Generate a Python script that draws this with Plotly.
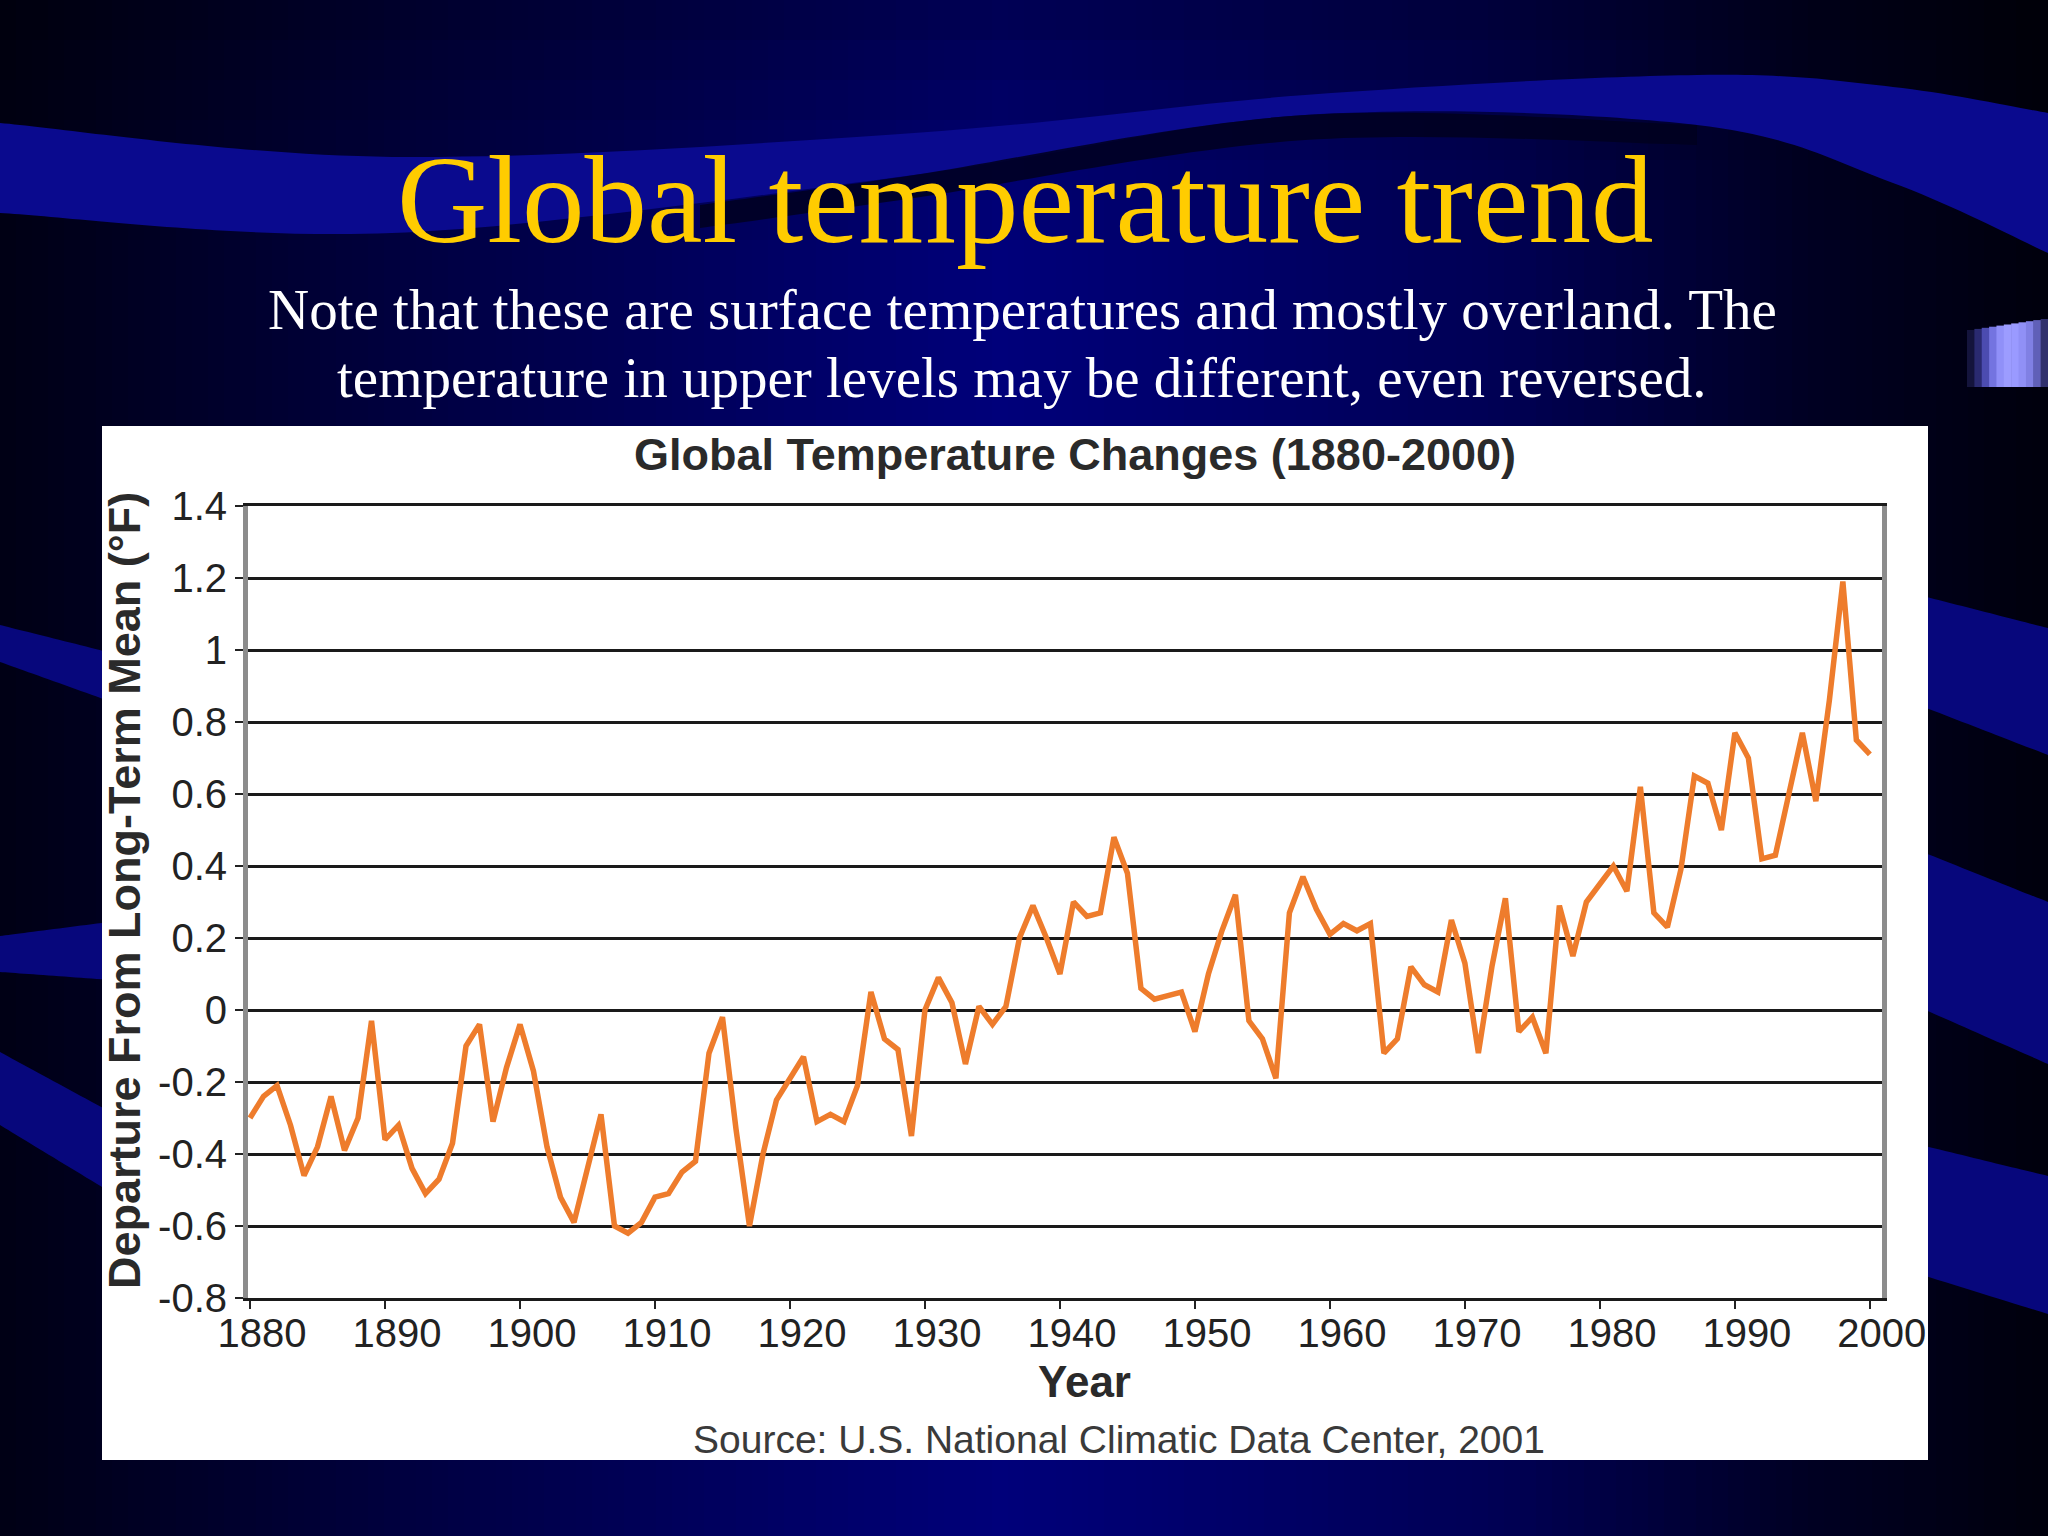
import plotly.graph_objects as go

W, H = 2048, 1536

# ---------------- data ----------------
years = list(range(1880, 2001))
anomaly_f = [
    -0.30, -0.24, -0.21, -0.32, -0.46, -0.38, -0.24, -0.39, -0.30, -0.03,   # 1880s
    -0.36, -0.32, -0.44, -0.51, -0.47, -0.37, -0.10, -0.04, -0.31, -0.16,   # 1890s
    -0.04, -0.17, -0.38, -0.52, -0.59, -0.44, -0.29, -0.60, -0.62, -0.59,   # 1900s
    -0.52, -0.51, -0.45, -0.42, -0.12, -0.02, -0.33, -0.60, -0.40, -0.25,   # 1910s
    -0.19, -0.13, -0.31, -0.29, -0.31, -0.21, 0.05, -0.08, -0.11, -0.35,    # 1920s
    0.00, 0.09, 0.02, -0.15, 0.01, -0.04, 0.01, 0.20, 0.29, 0.20,           # 1930s
    0.10, 0.30, 0.26, 0.27, 0.48, 0.38, 0.06, 0.03, 0.04, 0.05,             # 1940s
    -0.06, 0.10, 0.22, 0.32, -0.03, -0.08, -0.19, 0.27, 0.37, 0.28,         # 1950s
    0.21, 0.24, 0.22, 0.24, -0.12, -0.08, 0.12, 0.07, 0.05, 0.25,           # 1960s
    0.13, -0.12, 0.12, 0.31, -0.06, -0.02, -0.12, 0.29, 0.15, 0.30,         # 1970s
    0.35, 0.40, 0.33, 0.62, 0.27, 0.23, 0.39, 0.65, 0.63, 0.50,             # 1980s
    0.77, 0.70, 0.42, 0.43, 0.60, 0.77, 0.58, 0.86, 1.19, 0.75,             # 1990s
    0.71,                                                                   # 2000
]

y_tick_vals = [-0.8, -0.6, -0.4, -0.2, 0, 0.2, 0.4, 0.6, 0.8, 1.0, 1.2, 1.4]
y_tick_text = ["-0.8", "-0.6", "-0.4", "-0.2", "0", "0.2", "0.4", "0.6", "0.8", "1", "1.2", "1.4"]
x_tick_vals = list(range(1880, 2001, 10))
x_tick_text = [str(v) for v in x_tick_vals]

slide_title = "Global temperature trend"
note_line1 = "Note that these are surface temperatures and mostly overland. The"
note_line2 = "temperature in upper levels may be different, even reversed."
chart_title = "Global Temperature Changes (1880-2000)"
x_title = "Year"
y_title = "Departure From Long-Term Mean (°F)"
source_text = "Source: U.S. National Climatic Data Center, 2001"

SANS = "Liberation Sans, Arial, sans-serif"
SERIF = "Liberation Serif, Times New Roman, serif"


def PX(x):
    return x / W


def PY(y):
    return 1 - y / H


def smooth(points):
    """Catmull-Rom spline through pixel points -> SVG path pieces in paper coords."""
    out = []
    n = len(points)
    for i in range(n - 1):
        p0 = points[i - 1] if i > 0 else points[i]
        p1 = points[i]
        p2 = points[i + 1]
        p3 = points[i + 2] if i + 2 < n else points[i + 1]
        c1 = (p1[0] + (p2[0] - p0[0]) / 6, p1[1] + (p2[1] - p0[1]) / 6)
        c2 = (p2[0] - (p3[0] - p1[0]) / 6, p2[1] - (p3[1] - p1[1]) / 6)
        out.append("C %.5f %.5f %.5f %.5f %.5f %.5f" % (
            PX(c1[0]), PY(c1[1]), PX(c2[0]), PY(c2[1]), PX(p2[0]), PY(p2[1])))
    return " ".join(out)


def band_path(upper, lower):
    s = "M %.5f %.5f " % (PX(upper[0][0]), PY(upper[0][1]))
    s += smooth(upper)
    s += " L %.5f %.5f " % (PX(lower[0][0]), PY(lower[0][1]))
    s += smooth(lower)
    s += " Z"
    return s


shapes = []

# background horizontal gradient (slide)
stops = [(0, (0, 0, 20)), (450, (0, 0, 68)), (1000, (0, 0, 122)),
         (1500, (0, 0, 84)), (1800, (0, 0, 36)), (2048, (0, 0, 12))]


def grad_color(x):
    for (xa, ca), (xb, cb) in zip(stops[:-1], stops[1:]):
        if xa <= x <= xb:
            t = (x - xa) / (xb - xa)
            return "rgb(%d,%d,%d)" % tuple(round(a + (b - a) * t) for a, b in zip(ca, cb))
    return "rgb(0,0,12)"


step = 16
for x0 in range(0, W, step):
    shapes.append(dict(type="rect", xref="paper", yref="paper", layer="below",
                       x0=PX(x0), x1=PX(x0 + step + 1), y0=0, y1=1,
                       fillcolor=grad_color(x0 + step / 2), line=dict(width=0)))

# subtle darkening toward top
for i, op in enumerate([0.30, 0.24, 0.18, 0.12, 0.07, 0.03]):
    shapes.append(dict(type="rect", xref="paper", yref="paper", layer="below",
                       x0=0, x1=1, y0=PY(40 * (i + 1)), y1=PY(40 * i),
                       fillcolor="black", opacity=op, line=dict(width=0)))

BAND = "#0a0a8e"
BAND2 = "#07077c"
DARK = "rgba(0,0,30,0.85)"

# big sweeping band at top
shapes.append(dict(type="path", xref="paper", yref="paper", layer="below",
                   path=band_path(
                       [(0, 123), (392, 157), (914, 133), (1305, 95), (1697, 75), (1893, 87), (2048, 113)],
                       [(2048, 253), (1893, 183), (1697, 125), (1305, 115), (914, 175), (392, 233), (0, 213)]),
                   fillcolor=BAND, line=dict(width=0)))
# dark shadow strip under the top band
shapes.append(dict(type="path", xref="paper", yref="paper", layer="below",
                   path=band_path(
                       [(700, 205), (914, 175), (1305, 115), (1697, 125)],
                       [(1697, 145), (1305, 140), (914, 198), (700, 228)]),
                   fillcolor=DARK, line=dict(width=0)))

# right side bands
for up, lo in [
    ([(1880, 585), (2048, 628)], [(2048, 755), (1880, 690)]),
    ([(1880, 835), (2048, 902)], [(2048, 1064), (1880, 990)]),
    ([(1880, 1135), (2048, 1176)], [(2048, 1314), (1880, 1262)]),
]:
    shapes.append(dict(type="path", xref="paper", yref="paper", layer="below",
                       path=band_path(up, lo), fillcolor=BAND2, line=dict(width=0)))

# left side bands
for up, lo in [
    ([(0, 625), (140, 660)], [(140, 712), (0, 662)]),
    ([(0, 936), (140, 918)], [(140, 982), (0, 972)]),
    ([(0, 1052), (140, 1128)], [(140, 1210), (0, 1125)]),
]:
    shapes.append(dict(type="path", xref="paper", yref="paper", layer="below",
                       path=band_path(up, lo), fillcolor=BAND2, line=dict(width=0)))

# small lavender tab at upper right
tab_cols = ["#14143c", "#2a2a70", "#4c4cb0", "#7474e0", "#9090f8", "#9c9cff",
            "#9a9aff", "#9090f6", "#8080e4", "#6060b8", "#30306c"]
tw = (2048 - 1967) / len(tab_cols)
for i, c in enumerate(tab_cols):
    xa = 1967 + i * tw
    shapes.append(dict(type="rect", xref="paper", yref="paper", layer="below",
                       x0=PX(xa), x1=PX(xa + tw + 0.6), y0=PY(387), y1=PY(330 - i * 1.1),
                       fillcolor=c, line=dict(width=0)))

# white chart panel
shapes.append(dict(type="rect", xref="paper", yref="paper", layer="below",
                   x0=PX(102), x1=PX(1928), y0=PY(1460), y1=PY(426),
                   fillcolor="white", line=dict(width=0)))

fig = go.Figure()
fig.add_trace(go.Scatter(
    x=years, y=anomaly_f, mode="lines",
    line=dict(color="#EE7C2C", width=5.5),
    hoverinfo="x+y", showlegend=False,
))

annotations = [
    dict(text=slide_title, x=PX(1025), y=PY(200), xref="paper", yref="paper",
         xanchor="center", yanchor="middle", showarrow=False,
         font=dict(family=SERIF, size=125, color="#FFCC00")),
    dict(text=note_line1, x=PX(1022), y=PY(309), xref="paper", yref="paper",
         xanchor="center", yanchor="middle", showarrow=False,
         font=dict(family=SERIF, size=57, color="white")),
    dict(text=note_line2, x=PX(1022), y=PY(377), xref="paper", yref="paper",
         xanchor="center", yanchor="middle", showarrow=False,
         font=dict(family=SERIF, size=57, color="white")),
    dict(text="<b>" + chart_title + "</b>", x=PX(1075), y=PY(455), xref="paper", yref="paper",
         xanchor="center", yanchor="middle", showarrow=False,
         font=dict(family=SANS, size=45, color="#2a2a2a")),
    dict(text="<b>" + x_title + "</b>", x=PX(1084), y=PY(1381), xref="paper", yref="paper",
         xanchor="center", yanchor="middle", showarrow=False,
         font=dict(family=SANS, size=44, color="#2a2a2a")),
    dict(text=source_text, x=PX(1119), y=PY(1439), xref="paper", yref="paper",
         xanchor="center", yanchor="middle", showarrow=False,
         font=dict(family=SANS, size=39, color="#3a3a3a")),
    dict(text="<b>" + y_title + "</b>", x=PX(124), y=PY(891), xref="paper", yref="paper",
         xanchor="center", yanchor="middle", showarrow=False, textangle=-90,
         font=dict(family=SANS, size=45, color="#2a2a2a")),
]

fig.update_layout(
    template="none",
    width=W, height=H, autosize=False,
    margin=dict(l=0, r=0, t=0, b=0, pad=0, autoexpand=False),
    paper_bgcolor="#000030", plot_bgcolor="white",
    shapes=shapes, annotations=annotations, showlegend=False,
    xaxis=dict(
        domain=[PX(248), PX(1882)], range=[1879.85, 2000.9], automargin=False,
        tickmode="array", tickvals=x_tick_vals, ticktext=x_tick_text,
        ticks="outside", ticklen=8, tickwidth=2, tickcolor="#222",
        showline=True, linecolor="#1a1a1a", linewidth=3, mirror=True,
        showgrid=False, zeroline=False,
        tickfont=dict(family=SANS, size=40, color="#222"),
        ticklabelstandoff=-10, ticklabelshift=12,
    ),
    yaxis=dict(
        domain=[PY(1298), PY(506)], range=[-0.8, 1.4], automargin=False,
        tickmode="array", tickvals=y_tick_vals, ticktext=y_tick_text,
        ticks="outside", ticklen=8, tickwidth=2, tickcolor="#222",
        showline=True, linecolor="#8c8c8c", linewidth=5, mirror=True,
        showgrid=True, gridcolor="#1a1a1a", gridwidth=2.5, zeroline=False,
        tickfont=dict(family=SANS, size=40, color="#222"),
        ticklabelstandoff=0,
    ),
)

fig.write_html("out.html")
